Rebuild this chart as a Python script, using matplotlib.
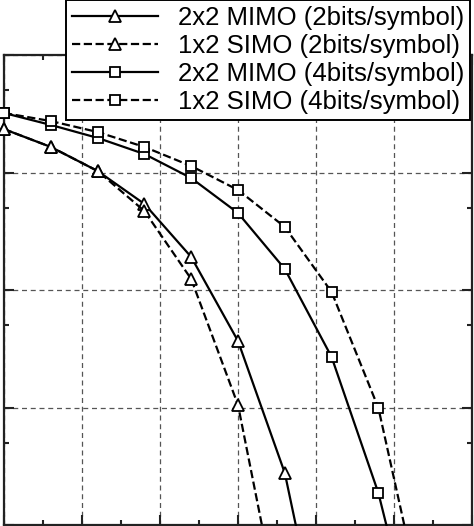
import matplotlib
matplotlib.use("Agg")
import matplotlib.pyplot as plt
from matplotlib.ticker import FixedLocator, NullFormatter

snr_db = [0, 3, 6, 9, 12, 15, 18, 21, 24, 27]

ber_mimo_2 = [0.234, 0.165, 0.103, 0.054, 0.0191, 0.00368, 2.77e-4, 3.6e-6]
ber_simo_2 = [0.234, 0.165, 0.103, 0.047, 0.0124, 0.00105, 1.05e-5]
ber_mimo_4 = [0.321, 0.254, 0.197, 0.1436, 0.0897, 0.0452, 0.0151, 0.00269, 1.87e-4, 4.7e-6]
ber_simo_4 = [0.321, 0.274, 0.221, 0.165, 0.1135, 0.0710, 0.0344, 0.00962, 9.9e-4, 1.57e-5]

labels = ["2x2 MIMO (2bits/symbol)", "1x2 SIMO (2bits/symbol)",
          "2x2 MIMO (4bits/symbol)", "1x2 SIMO (4bits/symbol)"]

x_major = [0, 5, 10, 15, 20, 25, 30]
x_minor = [2.5, 7.5, 12.5, 17.5, 22.5, 27.5]
y_major = [1e-4, 1e-3, 1e-2, 1e-1, 1]
y_minor = [5e-4, 5e-3, 5e-2, 5e-1]

plt.rcParams['font.family'] = ['Liberation Sans', 'DejaVu Sans']

W, H = 474, 526
fig = plt.figure(figsize=(W / 100, H / 100), dpi=100)
ax = fig.add_axes([4 / W, 1 / H, (472 - 4) / W, (525 - 55) / H])

series = [
    (ber_mimo_2, '-', '^', 8),
    (ber_simo_2, '--', '^', 8),
    (ber_mimo_4, '-', 's', 6.5),
    (ber_simo_4, '--', 's', 6.5),
]
for (vals, ls, mk, ms), lab in zip(series, labels):
    ax.plot(snr_db[:len(vals)], vals, linestyle=ls, marker=mk, markersize=ms,
            color='black', markerfacecolor='white', markeredgecolor='black',
            markeredgewidth=1.3, linewidth=1.6, label=lab, clip_on=False, zorder=3)

ax.set_yscale('log')
ax.set_xlim(0, 30)
ax.set_ylim(1e-4, 1)
ax.xaxis.set_major_locator(FixedLocator(x_major))
ax.xaxis.set_minor_locator(FixedLocator(x_minor))
ax.yaxis.set_major_locator(FixedLocator(y_major))
ax.yaxis.set_minor_locator(FixedLocator(y_minor))
ax.xaxis.set_major_formatter(NullFormatter())
ax.xaxis.set_minor_formatter(NullFormatter())
ax.yaxis.set_major_formatter(NullFormatter())
ax.yaxis.set_minor_formatter(NullFormatter())

ax.tick_params(which='both', direction='in', top=True, right=True,
               color='#222222', width=1.5)
ax.tick_params(which='major', length=7)
ax.tick_params(which='minor', length=3.5)

ax.grid(True, which='major', linestyle=(0, (4, 3)), linewidth=0.9, color='#555555')

for sp in ax.spines.values():
    sp.set_linewidth(1.6)
    sp.set_color('#222222')

leg = ax.legend(loc='upper right', bbox_to_anchor=(470 / W, 526 / H),
                bbox_transform=fig.transFigure, borderaxespad=0,
                fontsize=18.5, handlelength=3.35, handletextpad=0.78,
                labelspacing=0.16, borderpad=0.22, fancybox=False,
                framealpha=1, edgecolor='black')
leg.get_frame().set_linewidth(1.4)
leg.set_zorder(5)

fig.savefig('out.png', dpi=100)
